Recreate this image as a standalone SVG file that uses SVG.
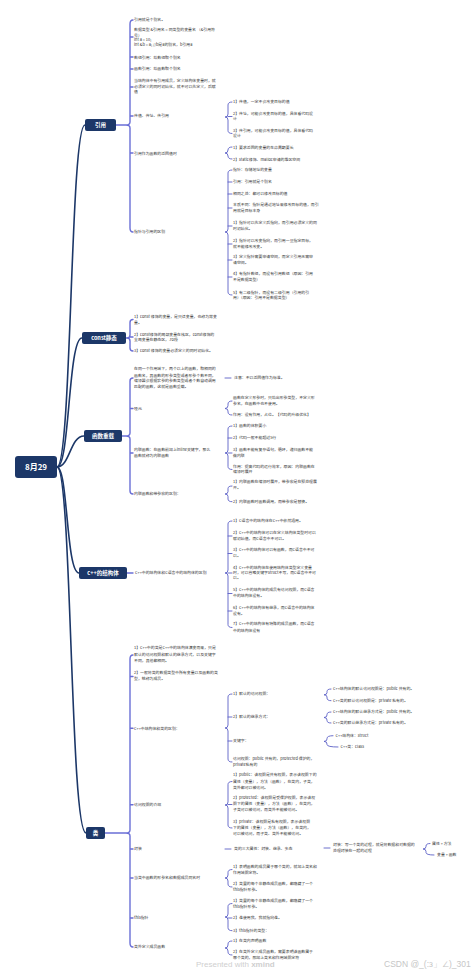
<svg xmlns="http://www.w3.org/2000/svg" width="474" height="978" viewBox="0 0 474 978">
<style>
.t{font-family:"Noto Sans CJK SC","Liberation Sans",sans-serif;font-size:3.9px;fill:#333}
.bn{font-family:"Noto Sans CJK SC","Liberation Sans",sans-serif;font-size:5.5px;font-weight:bold;fill:#fff;text-anchor:middle}
.box{fill:#1c3768}
.main{fill:none;stroke:#1c3768;stroke-width:1.6}
.l1{fill:none;stroke:#6a6fd6;stroke-width:1.4;stroke-linecap:round}
.l2{fill:none;stroke:#5b60c6;stroke-width:0.9;stroke-linecap:round}
.wm{font-family:"Liberation Sans",sans-serif;font-size:8px;fill:#cfcfcf}
</style>
<rect width="474" height="978" fill="#fff"/>
<g id="connectors">
<path class="main" d="M57,467 C72,467 70,125 85,125"/>
<path class="main" d="M57,467 C70,467 68,338 82,338"/>
<path class="main" d="M57,467 C70,467 70,436 84,436"/>
<path class="main" d="M57,467 C68,467 66,573 79,573"/>
<path class="main" d="M57,467 C72,467 70,833 86,833"/>
<!-- level 1 -->
<path class="l1" d="M116,125 H126 M133,20 Q130,20 130,24 V122 Q130,125 126,125 Q130,125 130,128 V228 Q130,232 133,232 M130,37 H133 M130,57 H133 M130,69 H133 M130,87 H133 M130,116 H133 M130,153 H133"/>
<path class="l1" d="M126,338 H127 M133,319.5 Q130,319.5 130,322.5 V335 Q130,338 127,338 Q130,338 130,341 V348 Q130,351 133,351 M130,337 H133"/>
<path class="l1" d="M122,436 H126 M133,378 Q130,378 130,381 V433 Q130,436 126,436 Q130,436 130,439 V491 Q130,494 133,494 M130,408.5 H133 M130,453 H133"/>
<path class="l1" d="M127,573 H133"/>
<path class="l1" d="M105,833 H126 M133,655 Q130,655 130,659 V830 Q130,833 126,833 Q130,833 130,836 V943 Q130,947 133,947 M130,676.5 H133 M130,728.3 H133 M130,804.7 H133 M130,849 H133 M130,878 H133 M130,918 H133"/>
<!-- level 2 -->
<path class="l2" d="M232,102 Q228,102 228,105 V114 Q228,117 225,117 Q228,117 228,120 V130.5 Q228,133.5 232,133.5 M228,116.5 H232"/>
<path class="l2" d="M232,147 Q228,147 228,150 V150 Q228,153 225,153 Q228,153 228,156 V156 Q228,159 232,159"/>
<path class="l2" d="M232,170 Q228,170 228,173 V229 Q228,232 225,232 Q228,232 228,235 V292 Q228,295 232,295 M228,182 H232 M228,194 H232 M228,208 H232 M228,226 H232 M228,244 H232 M228,260 H232 M228,277 H232"/>
<path class="l2" d="M225,378 H231"/>
<path class="l2" d="M232,401 Q228,401 228,404 V405.5 Q228,408.5 225,408.5 Q228,408.5 228,411 V412 Q228,415 232,415"/>
<path class="l2" d="M232,426 Q228,426 228,429 V450 Q228,453 225,453 Q228,453 228,456 V466.5 Q228,469.5 232,469.5 M228,438 H232 M228,453 H232"/>
<path class="l2" d="M232,486 Q228,486 228,488.5 V491.5 Q228,494 225,494 Q228,494 228,496.5 V499 Q228,501.7 232,501.7"/>
<path class="l2" d="M232,521 Q228,521 228,524 V570 Q228,573 225,573 Q228,573 228,576 V624.5 Q228,627.5 232,627.5 M228,536 H232 M228,553.5 H232 M228,573 H232 M228,593.5 H232 M228,611 H232"/>
<path class="l2" d="M232,694 Q228,694 228,697 V725 Q228,728 225,728 Q228,728 228,731 V759 Q228,762 232,762 M228,717 H232 M228,741 H232"/>
<path class="l2" d="M331,689 Q327,689 327,691.5 V692.5 Q327,694.8 324,694.8 Q327,694.8 327,697 V698 Q327,700.7 331,700.7"/>
<path class="l2" d="M331,712 Q327,712 327,714.5 V715 Q327,717.5 324,717.5 Q327,717.5 327,720 V720.5 Q327,723 331,723"/>
<path class="l2" d="M333,735.7 Q327,735.7 327,738.5 V739 Q327,741.4 324,741.4 Q327,741.4 327,744 V744.5 Q327,747 338,747"/>
<path class="l2" d="M232,781.5 Q228,781.5 228,784.5 V802 Q228,805 225,805 Q228,805 228,808 V825 Q228,828 232,828 M228,804.5 H232"/>
<path class="l2" d="M225,849 H231"/>
<path class="l2" d="M324,848 H330"/>
<path class="l2" d="M430,843.5 Q426,843.5 426,846 V846.5 Q426,849 423,849 Q426,849 426,851.5 V852.5 Q426,855 434,855"/>
<path class="l2" d="M232,869.5 Q228,869.5 228,872.5 V875 Q228,878 225,878 Q228,878 228,881 V884 Q228,887 232,887"/>
<path class="l2" d="M232,903.5 Q228,903.5 228,906.5 V914 Q228,917 225,917 Q228,917 228,920 V927.7 Q228,930.7 232,930.7 M228,918 H232"/>
<path class="l2" d="M232,941 Q228,941 228,944 V945 Q228,948 225,948 Q228,948 228,951 V952 Q228,955 232,955"/>
</g>

<g id="n-root"><rect class="box" x="15" y="456" width="42" height="22" rx="3"/><text class="bn" x="36" y="470" style="font-size:8px">8月29</text></g>
<g id="n-yinyong"><rect class="box" x="85" y="119" width="31" height="12" rx="2"/><text class="bn" x="100.5" y="127.2">引用</text></g>
<g id="n-const"><rect class="box" x="82" y="332" width="44" height="12" rx="2"/><text class="bn" x="104" y="340.2">const静态</text></g>
<g id="n-overload"><rect class="box" x="84" y="430" width="38" height="12" rx="2"/><text class="bn" x="103" y="438.2">函数重载</text></g>
<g id="n-struct"><rect class="box" x="79" y="567" width="48" height="12" rx="2"/><text class="bn" x="103" y="575.2">c++的结构体</text></g>
<g id="n-class"><rect class="box" x="86" y="827" width="19" height="12" rx="2"/><text class="bn" x="95.5" y="835.2">类</text></g>

<!-- 引用 children -->
<g id="n-yy1"><text class="t" x="134" y="21.4">引用就是个别名。</text></g>
<g id="n-yy2"><text class="t" x="134" y="31.4">数据类型 &amp;引用名 = 同类型的变量名 （&amp;引用符<tspan x="134" y="36.7">号）</tspan><tspan x="134" y="41.4">int a = 10;</tspan><tspan x="134" y="46.1">int &amp;b = a; //b是a的别名，b引用a</tspan></text></g>
<g id="n-yy3"><text class="t" x="134" y="58.7">数组引用：给数组取个别名</text></g>
<g id="n-yy4"><text class="t" x="134" y="70.1">函数引用：给函数取个别名</text></g>
<g id="n-yy5"><text class="t" x="134" y="82.4">当结构体中有引用成员，定义结构体变量时，就<tspan x="134" y="87.7">必须定义的同时初始化，就不可以先定义，后赋</tspan><tspan x="134" y="93.4">值</tspan></text></g>
<g id="n-yy6"><text class="t" x="134" y="117.4">传值、传址、传引用</text></g>
<g id="n-yy6a"><text class="t" x="233" y="103.4">1】传值，一定不会改变目标的值</text></g>
<g id="n-yy6b"><text class="t" x="233" y="115.1">2】传址，可能会改变目标的值，具体看代码设<tspan x="233" y="120.4">计</tspan></text></g>
<g id="n-yy6c"><text class="t" x="233" y="132.4">3】传引用，可能会改变目标的值，具体看代码<tspan x="233" y="137.4">设计</tspan></text></g>
<g id="n-yy7"><text class="t" x="134" y="154.7">引用作为函数的返回值时</text></g>
<g id="n-yy7a"><text class="t" x="233" y="148.7">1】要求返回的变量的生命周期要长</text></g>
<g id="n-yy7b"><text class="t" x="233" y="160.7">2】static修饰、malloc申请的堆区空间</text></g>
<g id="n-yy8"><text class="t" x="134" y="233.4">指针与引用的区别</text></g>
<g id="n-yy8a"><text class="t" x="233" y="171.4">指针：存储地址的变量</text></g>
<g id="n-yy8b"><text class="t" x="233" y="183.4">引用：引用就是个别名</text></g>
<g id="n-yy8c"><text class="t" x="233" y="195.4">相同之处：都可以修改目标的值</text></g>
<g id="n-yy8d"><text class="t" x="233" y="206.1">本质不同：指针是通过地址来修改目标的值，而引<tspan x="233" y="212.1">用就是目标本身</tspan></text></g>
<g id="n-yy8e"><text class="t" x="233" y="224.1">1】指针可以先定义后指向，而引用必须定义的同<tspan x="233" y="230.1">时初始化。</tspan></text></g>
<g id="n-yy8f"><text class="t" x="233" y="242.1">2】指针可以改变指向，而引用一旦指定目标，<tspan x="233" y="247.7">就不能修改改变。</tspan></text></g>
<g id="n-yy8g"><text class="t" x="233" y="258.1">3】定义指针需要申请空间，而定义引用无需申<tspan x="233" y="264.1">请空间。</tspan></text></g>
<g id="n-yy8h"><text class="t" x="233" y="275.4">4】有指针数组，而没有引用数组（原因：引用<tspan x="233" y="281.1">不是数据类型）</tspan></text></g>
<g id="n-yy8i"><text class="t" x="233" y="293.7">5】有二级指针，而没有二级引用（引用的引<tspan x="233" y="299.4">用）（原因：引用不是数据类型）</tspan></text></g>

<!-- const children -->
<g id="n-c1"><text class="t" x="134" y="318.1">1】const 修饰的变量，是只读变量，也称为常变<tspan x="134" y="323.7">量。</tspan></text></g>
<g id="n-c2"><text class="t" x="134" y="335.7">2】const修饰的局部变量在栈区，const修饰的<tspan x="134" y="341.4">全局变量在静态区，.ro段</tspan></text></g>
<g id="n-c3"><text class="t" x="134" y="352.4">3】const 修饰的变量必须定义的同时初始化。</text></g>

<!-- 函数重载 children -->
<g id="n-f1"><text class="t" x="134" y="370.4">在同一个作用域下，两个以上的函数，取相同的<tspan x="134" y="376.7">函数名，其函数的形参类型或者形参个数不同，</tspan><tspan x="134" y="382.4">编译器会根据实参的参数类型或者个数自动调用</tspan><tspan x="134" y="388.4">匹配的函数，这就是函数重载。</tspan></text></g>
<g id="n-f1a"><text class="t" x="234" y="379.4">注意：不以返回值作为标准。</text></g>
<g id="n-f2"><text class="t" x="134" y="409.9">哑元</text></g>
<g id="n-f2a"><text class="t" x="233" y="399.1">函数在定义形参时，只给出形参类型，不定义形<tspan x="233" y="405.4">参名，在函数中也不使用。</tspan></text></g>
<g id="n-f2b"><text class="t" x="233" y="416.4">作用：没有作用，占位。【代码的升级优化】</text></g>
<g id="n-f3"><text class="t" x="134" y="451.4">内联函数：在函数前加上inline关键字，那么<tspan x="134" y="457.1">函数就称为内联函数</tspan></text></g>
<g id="n-f3a"><text class="t" x="233" y="427.4">1】函数的体积要小</text></g>
<g id="n-f3b"><text class="t" x="233" y="439.4">2】代码一般不能超过5行</text></g>
<g id="n-f3c"><text class="t" x="233" y="451.1">3】函数不能有复杂语句，循环，递归函数不能<tspan x="233" y="457.1">做内联</tspan></text></g>
<g id="n-f3d"><text class="t" x="233" y="468.1">作用：提高代码的运行效率，原因：内联函数在<tspan x="233" y="473.4">编译时展开</tspan></text></g>
<g id="n-f4"><text class="t" x="134" y="495.4">内联函数和带参宏的区别：</text></g>
<g id="n-f4a"><text class="t" x="233" y="483.4">1】内联函数在编译时展开，带参宏是在预处理展<tspan x="233" y="489.4">开。</tspan></text></g>
<g id="n-f4b"><text class="t" x="233" y="503.1">2】内联函数时函数调用，而带参宏是替换。</text></g>

<!-- 结构体 children -->
<g id="n-s1"><text class="t" x="135" y="574.4">C++中的结构体和C语言中的结构体的区别</text></g>
<g id="n-s1a"><text class="t" x="233" y="522.4">1】C语言中的结构体在C++中依然适用。</text></g>
<g id="n-s1b"><text class="t" x="233" y="534.1">2】C++中的结构体可以在定义结构体类型时可以<tspan x="233" y="539.7">赋初始值，而C语言中不可以。</tspan></text></g>
<g id="n-s1c"><text class="t" x="233" y="551.4">3】C++中的结构体可以有函数，而C语言中不可<tspan x="233" y="557.4">以。</tspan></text></g>
<g id="n-s1d"><text class="t" x="233" y="569.1">4】C++中的结构体在使用结构体类型定义变量<tspan x="233" y="574.1">时，可以省略关键字struct不写，而C语言中不可</tspan><tspan x="233" y="579.4">以。</tspan></text></g>
<g id="n-s1e"><text class="t" x="233" y="591.4">5】C++中的结构体的成员有访问权限，而C语言<tspan x="233" y="597.4">中的结构体没有。</tspan></text></g>
<g id="n-s1f"><text class="t" x="233" y="609.1">6】C++中的结构体有继承，而C语言中的结构体<tspan x="233" y="614.7">没有。</tspan></text></g>
<g id="n-s1g"><text class="t" x="233" y="625.4">7】C++中的结构体有特殊的成员函数，而C语言<tspan x="233" y="632.1">中的结构体没有</tspan></text></g>

<!-- 类 children -->
<g id="n-k1"><text class="t" x="134" y="649.4">1】C++中的类是C++中的结构体演变而来，只是<tspan x="134" y="655.7">默认的访问权限和默认的继承方式，以及关键字</tspan><tspan x="134" y="662.1">不同，其他都相同。</tspan></text></g>
<g id="n-k2"><text class="t" x="134" y="674.1">2】一般将类的数据类型中所有变量以及函数的类<tspan x="134" y="680.4">型，统称为成员。</tspan></text></g>
<g id="n-k3"><text class="t" x="134" y="729.7">C++中结构体和类的区别：</text></g>
<g id="n-k3a"><text class="t" x="233" y="695.4">1】默认的访问权限：</text></g>
<g id="n-k3a1"><text class="t" x="333" y="690.4">C++结构体的默认访问权限是：public 共有的。</text></g>
<g id="n-k3a2"><text class="t" x="333" y="702.1">C++类的默认访问权限是：private 私有的。</text></g>
<g id="n-k3b"><text class="t" x="233" y="718.4">2】默认的继承方式：</text></g>
<g id="n-k3b1"><text class="t" x="333" y="713.4">C++结构体的默认继承方式是：public 共有的。</text></g>
<g id="n-k3b2"><text class="t" x="333" y="724.4">C++类的默认继承方式是：private 私有的。</text></g>
<g id="n-k3c"><text class="t" x="233" y="742.4">关键字：</text></g>
<g id="n-k3c1"><text class="t" x="335.5" y="737.1">C++结构体：struct</text></g>
<g id="n-k3c2"><text class="t" x="340.5" y="748.4">C++类：class</text></g>
<g id="n-k3d"><text class="t" x="233" y="760.4">访问权限：public 共有的，protected 保护的，<tspan x="233" y="766.1">private私有的</tspan></text></g>
<g id="n-k4"><text class="t" x="134" y="806.1">访问权限的介绍</text></g>
<g id="n-k4a"><text class="t" x="233" y="776.4">1】public：该权限是共有权限，表示该权限下的<tspan x="233" y="783.1">属性（变量），方法（函数），在类内，子类，</tspan><tspan x="233" y="789.1">类外都可以被访问。</tspan></text></g>
<g id="n-k4b"><text class="t" x="233" y="799.4">2】protected：该权限是受保护权限，表示该权<tspan x="233" y="805.4">限下的属性（变量），方法（函数），在类内，</tspan><tspan x="233" y="811.4">子类可以被访问，而类外不能被访问。</tspan></text></g>
<g id="n-k4c"><text class="t" x="233" y="823.4">3】private：该权限是私有权限，表示该权限<tspan x="233" y="829.1">下的属性（变量），方法（函数），在类内，</tspan><tspan x="233" y="834.7">可以被访问，而子类、类外不能被访问。</tspan></text></g>
<g id="n-k5"><text class="t" x="134" y="850.4">封装</text></g>
<g id="n-k5a"><text class="t" x="234" y="850.4">类的三大属性：封装、继承、多态</text></g>
<g id="n-k5b"><text class="t" x="333" y="846.4">封装：写一个类的过程，就是将数据和对数据的<tspan x="333" y="852.1">处理封装在一起的过程</tspan></text></g>
<g id="n-k5c"><text class="t" x="432" y="844.9">属性 + 方法</text></g>
<g id="n-k5d"><text class="t" x="437" y="856.4">变量 + 函数</text></g>
<g id="n-k6"><text class="t" x="134" y="879.4">当类中函数的形参名和数据成员同名时</text></g>
<g id="n-k6a"><text class="t" x="233" y="868.1">1】表明函数的成员属于哪个类的，就加上类名和<tspan x="233" y="874.1">作用域限定符。</tspan></text></g>
<g id="n-k6b"><text class="t" x="233" y="885.4">2】类里的每个非静态成员函数，都隐藏了一个<tspan x="233" y="891.4">this指针形参。</tspan></text></g>
<g id="n-k7"><text class="t" x="134" y="919.4">this指针</text></g>
<g id="n-k7a"><text class="t" x="233" y="902.1">1】类里的每个非静态成员函数，都隐藏了一个<tspan x="233" y="907.7">this指针形参。</tspan></text></g>
<g id="n-k7b"><text class="t" x="233" y="919.4">2】谁使用我，我就指向谁。</text></g>
<g id="n-k7c"><text class="t" x="233" y="932.1">3】this指针的类型：</text></g>
<g id="n-k8"><text class="t" x="134" y="948.4">类外定义成员函数</text></g>
<g id="n-k8a"><text class="t" x="233" y="942.4">1】在类内声明函数</text></g>
<g id="n-k8b"><text class="t" x="233" y="953.4">2】在类外定义成员函数，需要表明该函数属于<tspan x="233" y="959.4">哪个类的，即加上类名和作用域限定符</tspan></text></g>

<g id="watermark">
<text class="wm" x="196" y="967">Presented with <tspan font-weight="bold">xmind</tspan></text>
<text class="wm" x="384" y="967" style="font-size:8.5px;fill:#c6c6c6">CSDN @_(:з」∠)_301</text>
</g>
</svg>
